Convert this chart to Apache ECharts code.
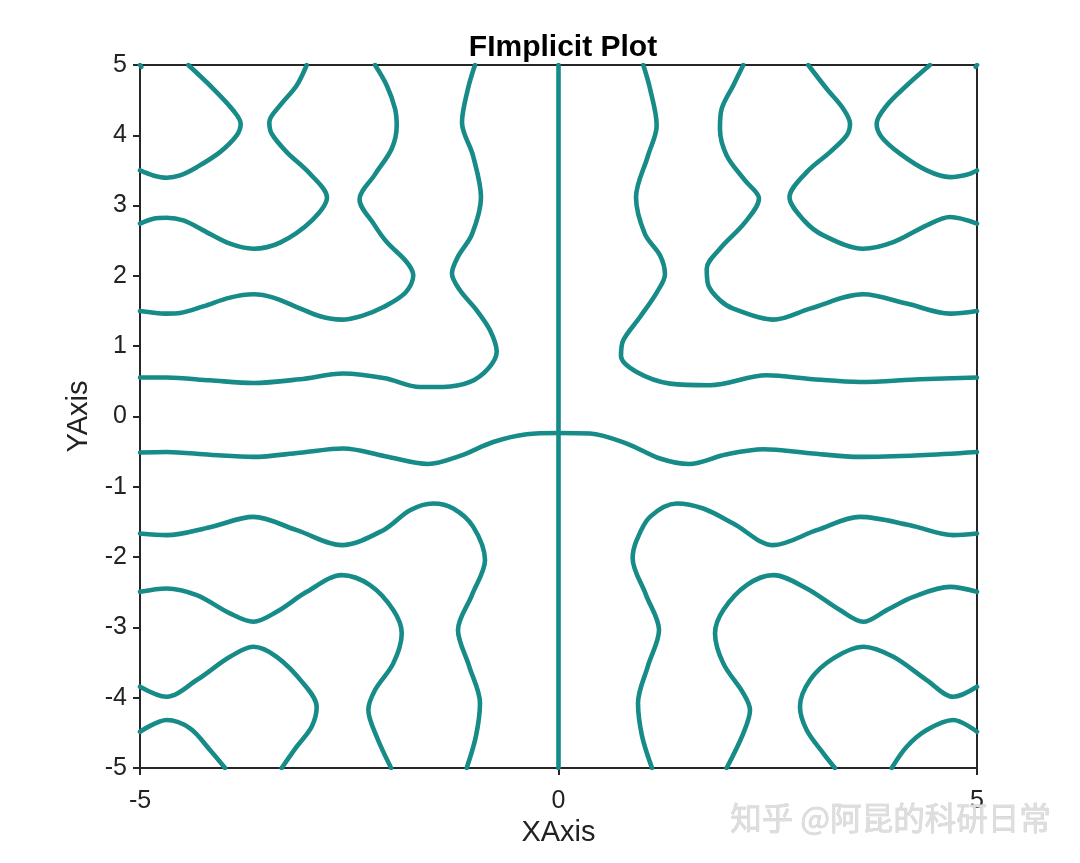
<!DOCTYPE html>
<html><head><meta charset="utf-8">
<script src="https://cdn.jsdelivr.net/npm/echarts@6/dist/echarts.min.js"></script>
<style>html,body{margin:0;padding:0;background:#fff}#c{width:1080px;height:863px}</style>
</head><body><div id="c"></div>
<script>
const chartTitle = 'FImplicit Plot';
const xName = 'XAxis';
const yName = 'YAxis';
const watermark = '知乎 @阿昆的科研日常';

// digitized contour pieces (x, y)
const vline = [[0,-5],[0,5]];
const cornerTL = [[-5,5],[-4.985,4.975]];
const cornerTR = [[5,5],[4.985,4.975]];

const c2L = [[-4.423,5],[-4.124,4.662],[-3.885,4.353],[-3.797,4.164],[-3.845,3.998],[-4.044,3.761],[-4.322,3.547],[-4.522,3.429],[-4.681,3.397],[-4.841,3.429],[-5,3.5]];
const c3L = [[-3.008,5],[-3.128,4.709],[-3.327,4.424],[-3.455,4.187],[-3.426,4.022],[-3.247,3.761],[-2.969,3.453],[-2.766,3.117],[-2.945,2.790],[-3.327,2.473],[-3.646,2.387],[-3.925,2.458],[-4.244,2.648],[-4.482,2.790],[-4.681,2.828],[-4.841,2.814],[-5,2.743]];
const c4L = [[-2.192,5],[-2.052,4.709],[-1.953,4.378],[-1.933,4.140],[-1.993,3.809],[-2.192,3.444],[-2.377,3.088],[-2.204,2.733],[-2.052,2.481],[-1.814,2.197],[-1.735,2.008],[-1.830,1.760],[-2.097,1.553],[-2.348,1.432],[-2.590,1.378],[-2.849,1.425],[-3.128,1.557],[-3.407,1.691],[-3.646,1.738],[-3.925,1.691],[-4.244,1.567],[-4.522,1.472],[-4.681,1.463],[-4.880,1.482],[-5,1.5]];
const c5L = [[-5,0.554],[-4.681,0.554],[-4.164,0.515],[-3.646,0.477],[-3.088,0.530],[-2.571,0.611],[-2.073,0.544],[-1.655,0.420],[-1.376,0.420],[-1.057,0.491],[-0.839,0.682],[-0.738,0.920],[-0.818,1.226],[-0.977,1.510],[-1.177,1.795],[-1.273,2.034],[-1.201,2.274],[-1.033,2.594],[-0.926,3.118],[-1.021,3.709],[-1.153,4.183],[-1.081,4.666],[-0.998,5]];
const c6 = [[-5,-0.512],[-4.681,-0.504],[-4.164,-0.544],[-3.646,-0.575],[-3.088,-0.515],[-2.571,-0.456],[-2.073,-0.565],[-1.560,-0.675],[-1.177,-0.560],[-0.779,-0.362],[-0.380,-0.252],[0,-0.234],[0.376,-0.242],[0.815,-0.385],[1.213,-0.598],[1.560,-0.675],[2.000,-0.540],[2.450,-0.465],[3.005,-0.522],[3.602,-0.575],[4.319,-0.551],[5,-0.504]];
const c7L = [[-5,-1.664],[-4.681,-1.688],[-4.164,-1.574],[-3.646,-1.428],[-3.128,-1.617],[-2.590,-1.830],[-2.093,-1.617],[-1.774,-1.333],[-1.496,-1.237],[-1.257,-1.309],[-1.018,-1.570],[-0.878,-2.043],[-1.033,-2.537],[-1.201,-3.038],[-1.069,-3.547],[-0.938,-4.076],[-0.986,-4.545],[-1.097,-5]];
const c8L = [[-5,-2.494],[-4.681,-2.446],[-4.322,-2.541],[-3.925,-2.801],[-3.646,-2.920],[-3.367,-2.778],[-3.008,-2.494],[-2.590,-2.257],[-2.252,-2.399],[-1.974,-2.754],[-1.873,-3.085],[-1.974,-3.512],[-2.192,-3.891],[-2.272,-4.176],[-2.172,-4.555],[-2.000,-5]];
const c9L = [[-5,-3.844],[-4.681,-3.987],[-4.322,-3.749],[-3.925,-3.418],[-3.646,-3.276],[-3.367,-3.418],[-3.049,-3.796],[-2.889,-4.129],[-2.949,-4.413],[-3.128,-4.697],[-3.307,-5]];
const c10L = [[-5,-4.484],[-4.681,-4.318],[-4.402,-4.436],[-4.164,-4.744],[-3.984,-5]];

const c2R = [[4.438,5],[4.160,4.709],[3.921,4.424],[3.801,4.164],[3.861,3.974],[4.080,3.738],[4.399,3.500],[4.677,3.405],[4.877,3.439],[5,3.5]];
const c3R = [[2.984,5],[3.204,4.662],[3.402,4.378],[3.483,4.164],[3.443,3.998],[3.244,3.761],[2.965,3.476],[2.760,3.117],[2.933,2.790],[3.164,2.577],[3.641,2.387],[4.000,2.481],[4.399,2.719],[4.677,2.837],[5,2.743]];
const c4R = [[2.208,5],[2.088,4.709],[1.950,4.378],[1.929,4.093],[2.009,3.714],[2.228,3.358],[2.395,3.102],[2.228,2.761],[1.929,2.387],[1.771,2.103],[1.790,1.866],[1.929,1.653],[2.088,1.535],[2.566,1.378],[3.005,1.535],[3.641,1.738],[4.160,1.606],[4.677,1.463],[5,1.5]];
const c5R = [[1.013,5],[1.093,4.666],[1.173,4.140],[1.069,3.709],[0.926,3.118],[1.033,2.594],[1.213,2.292],[1.272,2.024],[1.177,1.770],[0.974,1.415],[0.774,1.084],[0.747,0.860],[0.934,0.633],[1.332,0.468],[1.810,0.444],[2.487,0.586],[3.041,0.530],[3.602,0.491],[4.319,0.530],[5,0.554]];
const c7R = [[1.117,-5],[0.998,-4.545],[0.950,-4.076],[1.069,-3.547],[1.201,-3.038],[1.045,-2.537],[0.886,-2.015],[0.934,-1.759],[1.093,-1.428],[1.412,-1.237],[1.730,-1.309],[2.088,-1.522],[2.566,-1.830],[3.085,-1.617],[3.602,-1.428],[4.199,-1.546],[4.717,-1.688],[5,-1.664]];
const c8R = [[5,-2.494],[4.677,-2.423],[4.239,-2.565],[3.921,-2.754],[3.641,-2.920],[3.363,-2.754],[2.965,-2.446],[2.566,-2.257],[2.248,-2.399],[1.969,-2.754],[1.870,-3.085],[1.969,-3.512],[2.208,-3.938],[2.288,-4.176],[2.208,-4.507],[2.009,-5]];
const c9R = [[5,-3.844],[4.717,-3.987],[4.399,-3.749],[4.000,-3.418],[3.641,-3.276],[3.283,-3.441],[3.005,-3.749],[2.885,-4.129],[2.965,-4.460],[3.164,-4.791],[3.303,-5]];
const c10R = [[5,-4.484],[4.717,-4.318],[4.399,-4.460],[4.160,-4.697],[3.981,-5]];

const curves = [vline, cornerTL, cornerTR, c2L, c3L, c4L, c5L, c6, c7L, c8L, c9L, c10L, c2R, c3R, c4R, c5R, c7R, c8R, c9R, c10R];

const lineColor = '#168b87';
const axisColor = '#262626';
const font = 'Liberation Sans, Arial, Helvetica, sans-serif';

const chart = echarts.init(document.getElementById('c'), null, {renderer: 'canvas'});
chart.setOption({
  backgroundColor: '#ffffff',
  animation: false,
  title: {
    text: chartTitle, left: 558, top: 28, textAlign: 'center',
    textStyle: {fontFamily: font, fontWeight: 'bold', fontSize: 30, color: '#000'}
  },
  grid: {left: 140, right: 103, top: 65, bottom: 95, show: true, borderColor: axisColor, borderWidth: 2, backgroundColor: 'transparent'},
  xAxis: {
    type: 'value', min: -5, max: 5, interval: 5,
    name: xName, nameLocation: 'middle', nameGap: 49,
    nameTextStyle: {fontFamily: font, fontSize: 29, color: '#222'},
    axisLine: {show: true, onZero: false, lineStyle: {color: axisColor, width: 2}},
    axisTick: {show: true, inside: false, length: 7, lineStyle: {color: axisColor, width: 2}},
    axisLabel: {fontFamily: font, fontSize: 25, color: '#222', margin: 21},
    splitLine: {show: false}
  },
  yAxis: {
    type: 'value', min: -5, max: 5, interval: 1,
    name: yName, nameLocation: 'middle', nameGap: 44, nameRotate: 90,
    nameTextStyle: {fontFamily: font, fontSize: 29, color: '#222'},
    axisLine: {show: true, onZero: false, lineStyle: {color: axisColor, width: 2}},
    axisTick: {show: true, inside: false, length: 7, lineStyle: {color: axisColor, width: 2}},
    axisLabel: {fontFamily: font, fontSize: 25, color: '#222', margin: 13},
    splitLine: {show: false}
  },
  graphic: [{
    type: 'text', left: 730, top: 802, z: 100,
    style: {text: watermark, font: '31.5px "Noto Sans CJK SC", sans-serif', fill: '#dedede', stroke: '#c9c9c9', lineWidth: 0.6}
  }],
  series: curves.map(function (d) {
    return {
      type: 'line', data: d, smooth: 0.33, showSymbol: false, clip: true,
      lineStyle: {color: lineColor, width: 4.6, cap: 'round', join: 'round'},
      silent: true
    };
  })
});
</script>
</body></html>
